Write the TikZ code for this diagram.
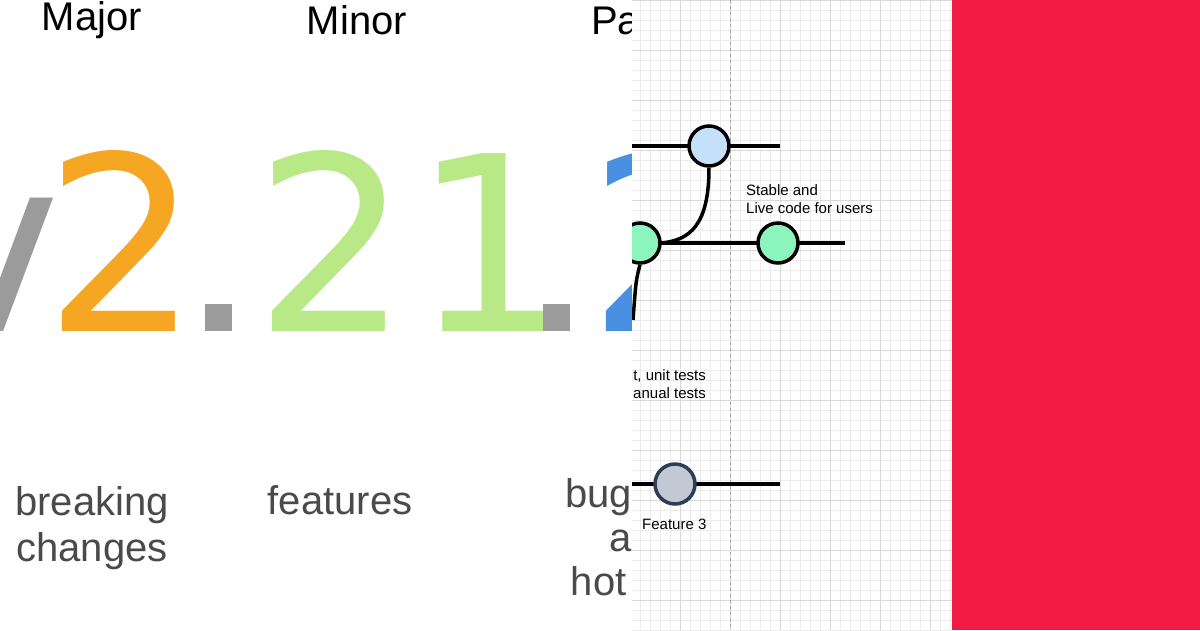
\documentclass[tikz,border=0pt]{standalone}
\usepackage{fontspec}
\setmainfont{Liberation Sans}
\newfontfamily\digitfont{DejaVu Sans}
\definecolor{vorange}{HTML}{F5A623}
\definecolor{vgreen}{HTML}{B8E986}
\definecolor{vgray}{HTML}{9B9B9B}
\definecolor{vblue}{HTML}{4A90E2}
\definecolor{vred}{HTML}{F01A42}
\definecolor{txtgray}{HTML}{4A4A4A}
\definecolor{cblue}{HTML}{C5E1FA}
\definecolor{cgreen}{HTML}{8CF5BE}
\definecolor{cgray}{HTML}{C3C9D4}
\definecolor{cdark}{HTML}{2C3E55}
\tikzset{
  head/.style={font=\fontsize{40}{40}\selectfont, text=black, inner sep=0},
  big/.style={font=\digitfont\fontsize{244}{244}\selectfont, inner sep=0, anchor=base west},
  foot/.style={font=\fontsize{40}{46}\selectfont, text=txtgray, inner sep=0, align=center},
  commit/.style={circle, draw=black, line width=3.5pt, minimum size=40pt, inner sep=0},
  branch/.style={line width=3.5pt, black},
  small/.style={font=\fontsize{15}{18}\selectfont, inner sep=0, align=left, anchor=north west},
}
\begin{document}
\begin{tikzpicture}[x=1pt,y=-1pt]
\useasboundingbox (0,0) rectangle (1200,630);
\fill[white] (0,0) rectangle (632,630);
\begin{scope}
\clip (0,0) rectangle (632,630);
\node[head] (major) at (92,20) {Major};
\node[head] (minor) at (357,20) {Minor};
\node[head, anchor=west] (patch) at (591,20) {Patch};
\node[big, text=vgray] (v) at (-84,331) {v};
\node[big, text=vorange] (d1) at (44,331) {2};
\fill[vgray] (205,304) rectangle (232,331);
\node[big, text=vgreen] (d2) at (254,331) {2};
\node[big, text=vgreen] (d3) at (412,331) {1};
\fill[vgray] (543,304) rectangle (570,331);
\node[big, text=vblue] (d4) at (588,331) {2};
\node[foot] (brk) at (92,528) {breaking\\changes};
\node[foot] (feat) at (340,500) {features};
\node[foot, anchor=north west] (bug) at (565,478) {bug\\[-2pt]\hspace*{1.1em}a\\[-2pt]hot};
\end{scope}
% middle panel
\fill[white] (632,0) rectangle (952,630);
\begin{scope}
\clip (632,0) rectangle (952,630);
\foreach \i in {0,...,33} {
  \draw[gray!15, line width=0.5pt] (630+10*\i,0) -- (630+10*\i,630);
}
\foreach \j in {0,...,63} {
  \draw[gray!15, line width=0.5pt] (630,10*\j) -- (960,10*\j);
}
\foreach \i in {0,...,6} {
  \draw[gray!30, line width=0.7pt] (630+50*\i,0) -- (630+50*\i,630);
}
\foreach \j in {0,...,12} {
  \draw[gray!30, line width=0.7pt] (630,50*\j) -- (960,50*\j);
}
\draw[gray!70, dashed, line width=0.8pt] (730,0) -- (730,630);
\draw[branch] (632,146) -- (780,146);
\draw[branch] (632,243) -- (845,243);
\draw[branch] (632,484) -- (780,484);
\node[commit, fill=cblue] (c1) at (709,146) {};
\node[commit, fill=cgreen] (c2) at (640,243) {};
\node[commit, fill=cgreen] (c3) at (778,243) {};
\draw[branch] (c1.south) .. controls (709,225) and (690,240) .. (c2.east);
\coordinate (down) at (633,320);
\draw[branch] (c2.south) .. controls (636,280) .. (down);
\node[commit, fill=cgray, draw=cdark] (c4) at (675,484) {};
\node[small] (stable) at (746,184) {Stable and\\Live code for users};
\node[small, align=right, anchor=north east] (tests) at (706,369) {Unit, unit tests\\and manual tests};
\node[small] (f3) at (642,519) {Feature 3};
\end{scope}
\fill[vred] (952,0) rectangle (1200,630);
\end{tikzpicture}
\end{document}
